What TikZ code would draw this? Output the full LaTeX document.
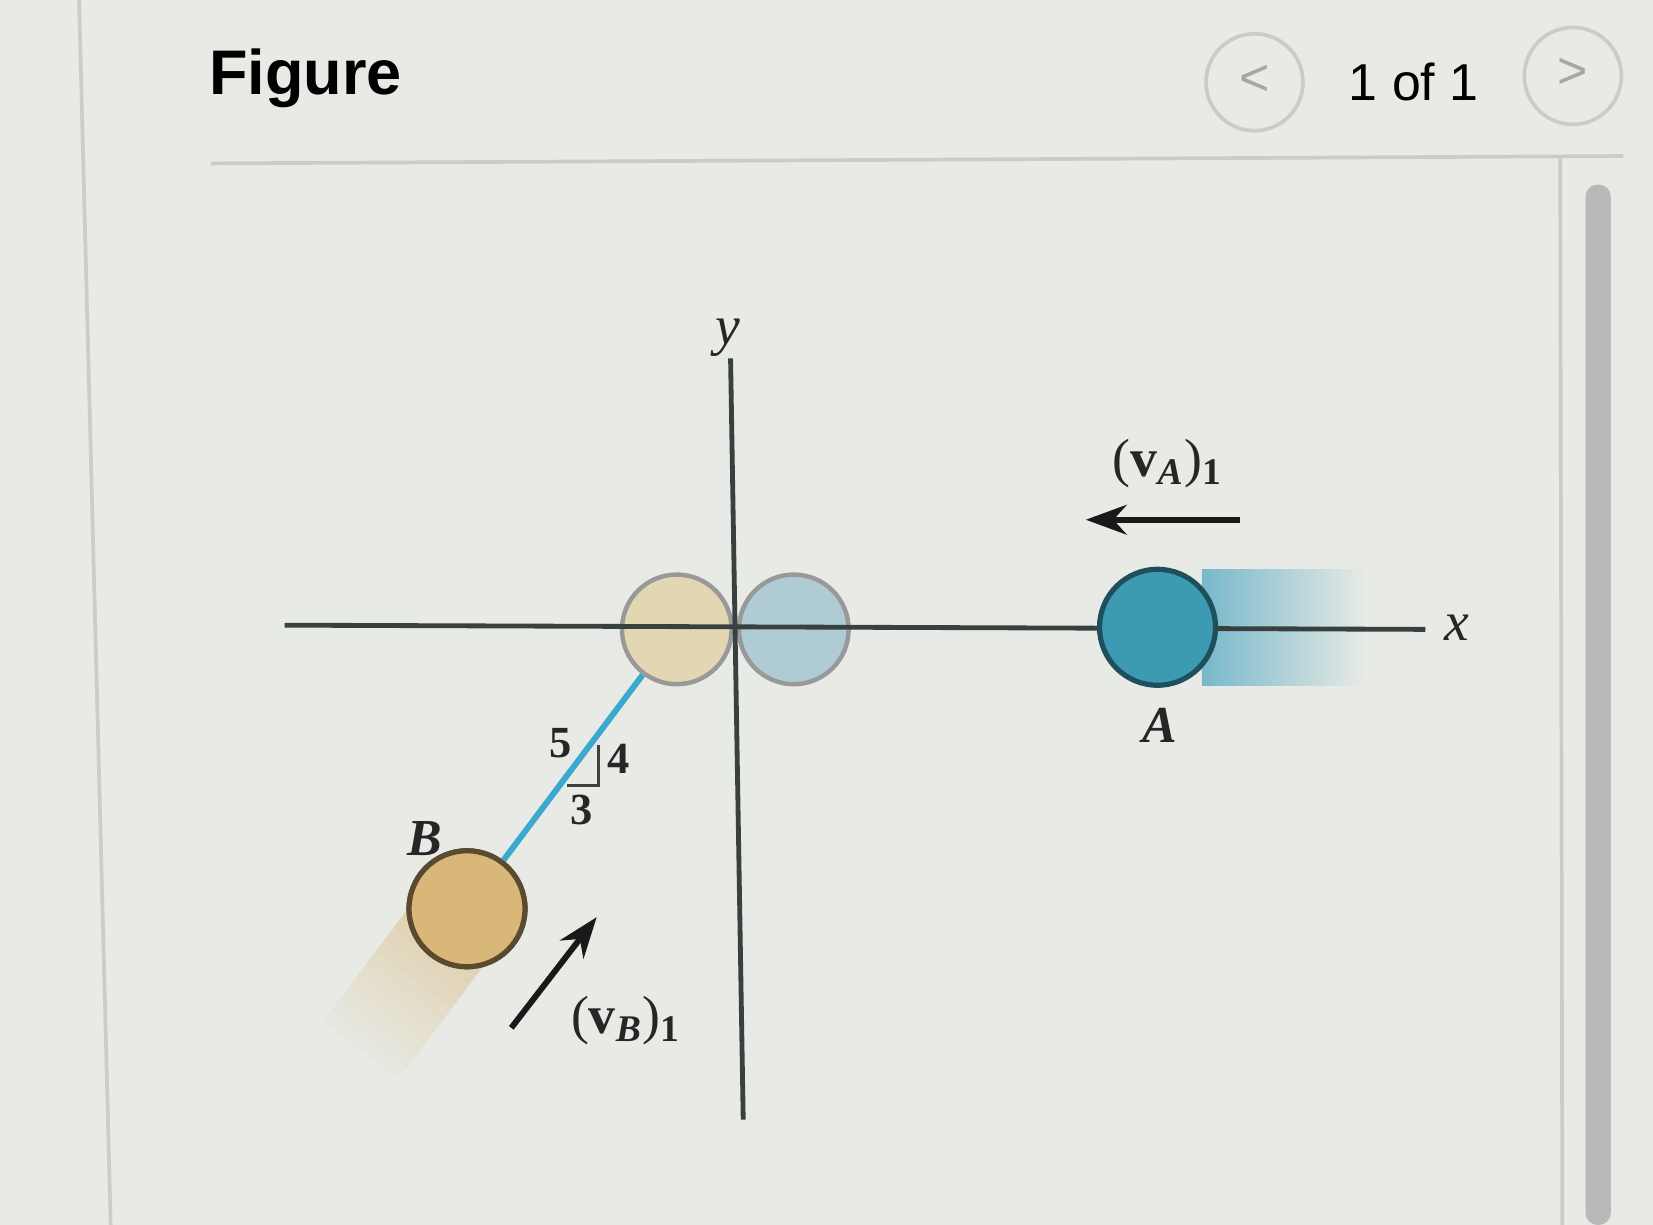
\documentclass[tikz,border=0pt]{standalone}
\usepackage{fontspec}
\setmainfont{Liberation Serif}
\newfontfamily\uisans{Liberation Sans}
\usetikzlibrary{arrows.meta}
\definecolor{bgc}{HTML}{E8EAE5}
\definecolor{axisc}{HTML}{394040}
\definecolor{tanf}{HTML}{E3D6AE}
\definecolor{bluef}{HTML}{A9C8D3}
\definecolor{ballA}{HTML}{3C9AB3}
\definecolor{ballAb}{HTML}{1F4F5C}
\definecolor{ballB}{HTML}{D9B778}
\definecolor{ballBb}{HTML}{5A4A30}
\definecolor{linkc}{HTML}{3AA8D0}
\definecolor{uigrey}{HTML}{C9CCC8}
\tikzset{
  ball/.style={circle, inner sep=0pt, minimum size=#1, line width=1.4pt},
  ghost/.style={circle, inner sep=0pt, minimum size=104*0.01cm, line width=1.2pt, draw=gray!80, fill opacity=0.9},
  axis/.style={draw=axisc, line width=1.3pt},
  vec/.style={draw=black!90, line width=1.6pt, -{Stealth[length=11pt,width=8pt]}},
  lbl/.style={font=\fontsize{14.5}{17}\selectfont, text=black!85, inner sep=0pt},
  uibtn/.style={circle, draw=uigrey, line width=1pt, minimum size=92*0.01cm, inner sep=0pt}
}
\begin{document}
\begin{tikzpicture}[x=0.01cm, y=-0.01cm]
\useasboundingbox (0,0) rectangle (1568,1162);
\fill[bgc] (0,0) rectangle (1568,1162);
% page edge and panel lines
\draw[gray!40, line width=1pt] (75,0) -- (105,1162);
\draw[uigrey, line width=1pt] (200,155) -- (1540,148);
\draw[uigrey, line width=1pt] (1480,150) -- (1482,1162);
\fill[gray!55, rounded corners=3.3pt] (1504,175) rectangle (1528,1162);
% header
\node[font=\uisans\bfseries\fontsize{17}{20}\selectfont, inner sep=0pt] (fig) at (290,74) {Figure};
\node[uibtn] (prev) at (1190,78) {};
\node[font=\uisans\fontsize{14}{16}\selectfont, text=gray!70] (prevt) at (1190,76) {\textless};
\node[font=\uisans\fontsize{14}{17}\selectfont, inner sep=0pt] (count) at (1341,78) {1 of 1};
\node[uibtn] (next) at (1492,72) {};
\node[font=\uisans\fontsize{14}{16}\selectfont, text=gray!70] (nextt) at (1492,70) {\textgreater};
% motion trails
\shade[left color=ballA!70, right color=bgc] (1140,540) rectangle (1295,650);
\foreach \i in {0,...,11} {
  \pgfmathsetmacro{\ta}{14*\i}
  \pgfmathsetmacro{\tb}{14*(\i+1)}
  \pgfmathsetmacro{\op}{0.55*(1-\i/12)}
  \fill[ballB, opacity=\op]
    ({443+36-0.6*\ta},{862+27+0.8*\ta}) -- ({443-36-0.6*\ta},{862-27+0.8*\ta}) --
    ({443-36-0.6*\tb},{862-27+0.8*\tb}) -- ({443+36-0.6*\tb},{862+27+0.8*\tb}) -- cycle;
}
% axes
\coordinate (xl) at (270,593);
\coordinate (xr) at (1352,597);
\coordinate (yt) at (693,340);
\coordinate (yb) at (705,1062);
% ghost balls
\node[ghost, fill=tanf] (B2) at (642,597) {};
\node[ghost, fill=bluef] (A2) at (753,597) {};
\draw[axis] (xl) -- (xr);
\draw[axis] (yt) -- (yb);
\node[lbl, font=\itshape\fontsize{15}{17}\selectfont] (xlab) at (1382,595) {x};
\node[lbl, font=\itshape\fontsize{15}{17}\selectfont] (ylab) at (690,320) {y};
% ball A
\node[ball=110*0.01cm, fill=ballA, draw=ballAb] (A) at (1098,595) {};
\node[lbl, font=\itshape\bfseries\fontsize{14}{16}\selectfont] (Alab) at (1100,688) {A};
\coordinate (vAs) at (1176,493);
\coordinate (vAe) at (1030,493);
\draw[vec] (vAs) -- (vAe);
\node[lbl] (vAl) at (1108,440) {(\textbf{v}\textsubscript{\textbf{\textit{A}}})\textsubscript{\textbf{1}}};
% ball B
\node[ball=110*0.01cm, fill=ballB, draw=ballBb] (B) at (443,862) {};
\node[lbl, font=\itshape\bfseries\fontsize{14}{16}\selectfont] (Blab) at (403,795) {B};
\draw[linkc, line width=1.6pt] (B) -- (B2);
% slope triangle
\coordinate (t1) at (568,707);
\coordinate (t2) at (568,745);
\coordinate (t3) at (538,745);
\draw[black!75, line width=0.8pt] (t1) -- (t2) -- (t3);
\node[lbl, font=\bfseries\fontsize{12}{14}\selectfont] (n5) at (532,705) {5};
\node[lbl, font=\bfseries\fontsize{12}{14}\selectfont] (n4) at (587,720) {4};
\node[lbl, font=\bfseries\fontsize{12}{14}\selectfont] (n3) at (552,768) {3};
% velocity of B
\coordinate (vBs) at (485,975);
\coordinate (vBe) at (566,870);
\draw[vec] (vBs) -- (vBe);
\node[lbl] (vBl) at (594,968) {(\textbf{v}\textsubscript{\textbf{\textit{B}}})\textsubscript{\textbf{1}}};
% ball B drawn over trail
\node[ball=110*0.01cm, fill=ballB, draw=ballBb] (Btop) at (B) {};
\end{tikzpicture}
\end{document}
